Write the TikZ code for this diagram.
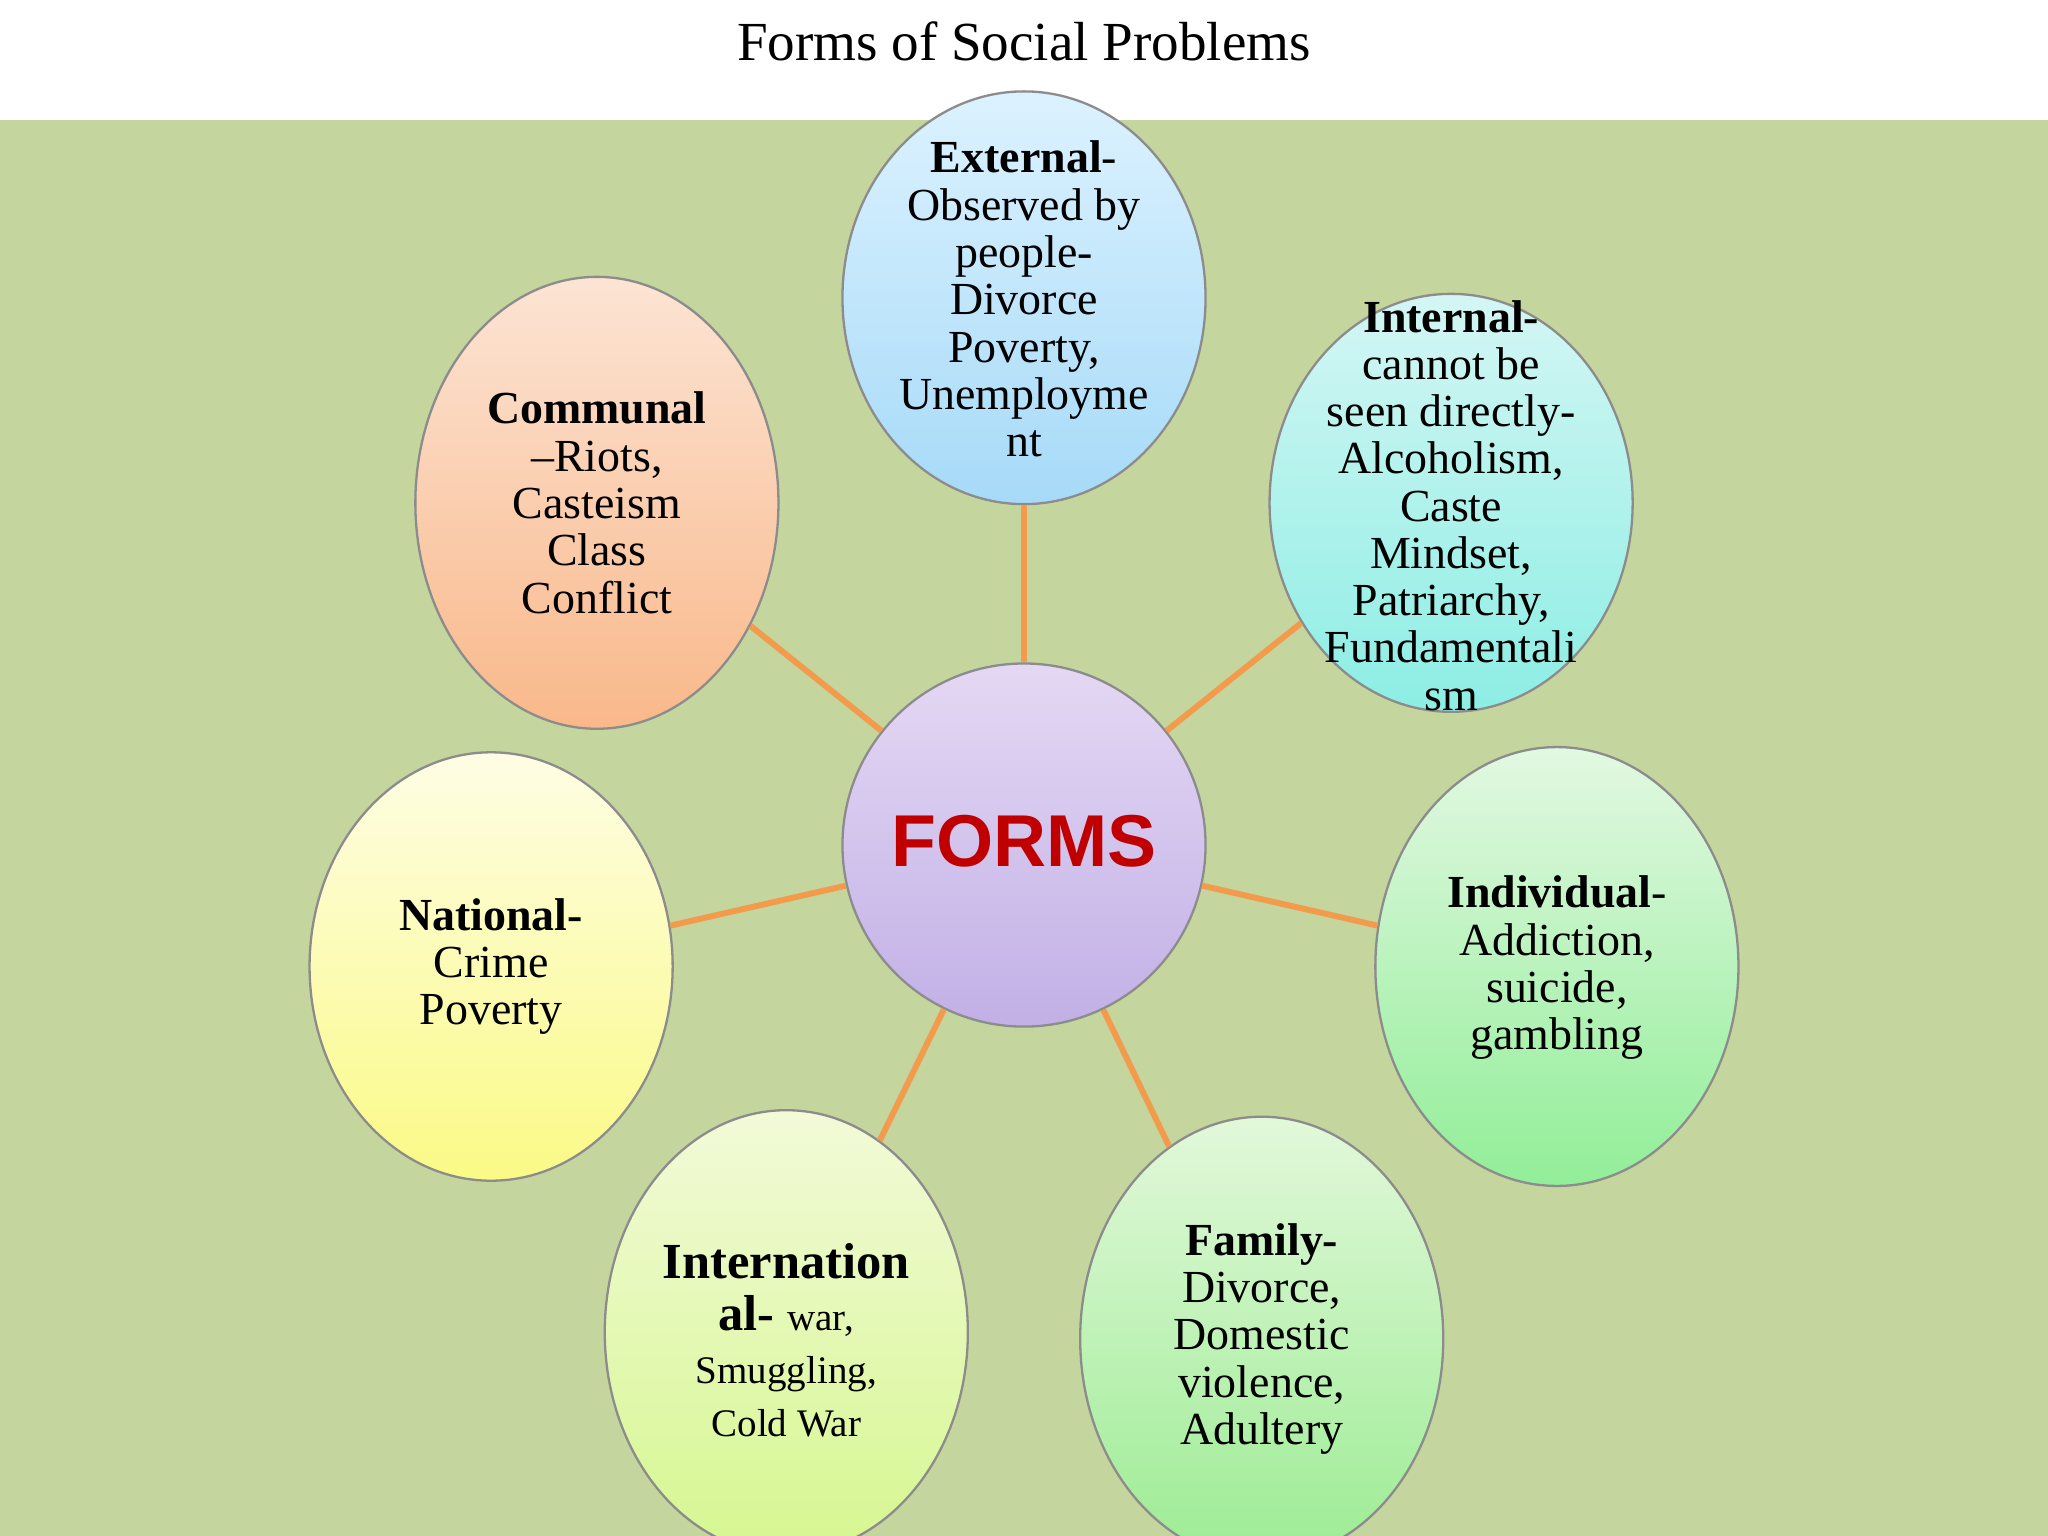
\documentclass[tikz,border=0pt]{standalone}
\usepackage{fontspec}
\setmainfont{Liberation Serif}
\newfontfamily\sansb{Liberation Sans}
\usetikzlibrary{shapes.geometric}
\definecolor{bggreen}{HTML}{C4D59E}
\definecolor{edgeor}{HTML}{F39B4C}
\definecolor{formred}{HTML}{C00000}
\definecolor{cA}{HTML}{E4D8F4}\definecolor{cB}{HTML}{C2B0E6}
\definecolor{eA}{HTML}{DCF2FF}\definecolor{eB}{HTML}{A6DAF8}
\definecolor{iA}{HTML}{D4F6F4}\definecolor{iB}{HTML}{8CEEE4}
\definecolor{mA}{HTML}{FCE4D4}\definecolor{mB}{HTML}{F9B88A}
\definecolor{nA}{HTML}{FEFDE4}\definecolor{nB}{HTML}{FAFA86}
\definecolor{dA}{HTML}{E2F8E2}\definecolor{dB}{HTML}{92EE98}
\definecolor{tA}{HTML}{F2FAD8}\definecolor{tB}{HTML}{D6F790}
\definecolor{fA}{HTML}{E2F8DA}\definecolor{fB}{HTML}{9CEC94}
\tikzset{
 bub/.style={ellipse,draw=black!45,line width=0.5pt,minimum width=2.78cm,inner sep=0pt},
 txt/.style={align=center,font=\fontsize{10}{10.3}\selectfont,inner sep=0pt},
 conn/.style={draw=edgeor,line width=1.3pt}
}
\begin{document}
\begin{tikzpicture}
\useasboundingbox (0,0) rectangle (15.68,11.76);
\clip (0,0) rectangle (15.68,11.76);
\fill[white] (0,0) rectangle (15.68,11.76);
\fill[bggreen] (0,0) rectangle (15.68,10.84);
\node[font=\fontsize{12}{13}\selectfont] (title) at (7.84,11.44) {Forms of Social Problems};
\node[bub,minimum height=2.78cm,top color=cA,bottom color=cB] (c) at (7.84,5.29) {};
\node[bub,minimum height=3.16cm,top color=eA,bottom color=eB] (ext) at (7.84,9.48) {};
\node[bub,minimum height=3.2cm,top color=iA,bottom color=iB] (int) at (11.11,7.91) {};
\node[bub,minimum height=3.46cm,top color=mA,bottom color=mB] (com) at (4.57,7.91) {};
\node[bub,minimum height=3.28cm,top color=nA,bottom color=nB] (nat) at (3.76,4.36) {};
\node[bub,minimum height=3.36cm,top color=dA,bottom color=dB] (ind) at (11.92,4.36) {};
\node[bub,minimum height=3.4cm,top color=tA,bottom color=tB] (intl) at (6.02,1.56) {};
\node[bub,minimum height=3.4cm,top color=fA,bottom color=fB] (fam) at (9.66,1.51) {};
\foreach \n in {ext,int,com,nat,ind,intl,fam} \draw[conn] (c) -- (\n);
\node[font=\sansb\bfseries\fontsize{16}{16}\selectfont,text=formred] (ct) at (7.84,5.32) {FORMS};
\node[txt] (t1) at (7.84,9.47) {\textbf{External}-\\Observed by\\people-\\Divorce\\Poverty,\\Unemployme\\nt};
\node[txt] (t2) at (11.11,7.89) {\textbf{Internal-}\\cannot be\\seen directly-\\Alcoholism,\\Caste\\Mindset,\\Patriarchy,\\Fundamentali\\sm};
\node[txt] (t3) at (4.57,7.91) {\textbf{Communal}\\--Riots,\\Casteism\\Class\\Conflict};
\node[txt] (t4) at (3.76,4.36) {\textbf{National-}\\Crime\\Poverty};
\node[txt] (t5) at (11.92,4.35) {\textbf{Individual}-\\Addiction,\\suicide,\\gambling};
\node[txt,font=\fontsize{11}{11.5}\selectfont] (t6) at (6.02,1.50) {\textbf{Internation}\\\textbf{al-} {\fontsize{8.5}{9}\selectfont war,}\\{\fontsize{8.5}{8.8}\selectfont Smuggling,}\\{\fontsize{8.5}{8.8}\selectfont Cold War}};
\node[txt] (t7) at (9.66,1.51) {\textbf{Family-}\\Divorce,\\Domestic\\violence,\\Adultery};
\end{tikzpicture}
\end{document}
